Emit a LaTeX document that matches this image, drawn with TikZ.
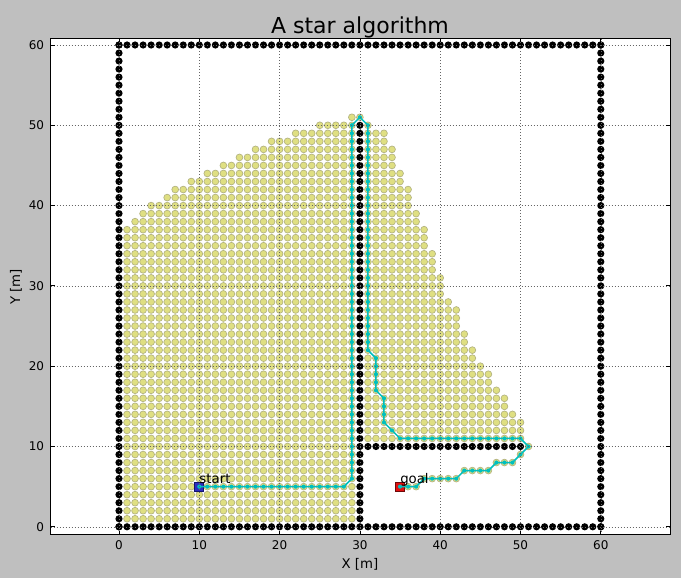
\documentclass[tikz,border=0pt]{standalone}
\usepackage{fontspec}
\setmainfont{DejaVu Sans}
\definecolor{bgray}{RGB}{191,191,191}
\definecolor{explfill}{RGB}{223,223,130}
\definecolor{expledge}{RGB}{178,178,128}
\definecolor{pathc}{RGB}{0,191,191}
\definecolor{startc}{RGB}{45,45,190}
\definecolor{startedge}{RGB}{20,20,110}
\definecolor{goalc}{RGB}{225,15,15}
\definecolor{goaledge}{RGB}{110,10,10}
\begin{document}
\begin{tikzpicture}[x=8.03pt,y=8.03pt,
  expl/.style={fill=explfill,draw=expledge,line width=0.65pt},
  wall/.style={fill=black},
  pdot/.style={fill=pathc},
  gridl/.style={draw=black!60,line width=0.5pt,dash pattern=on 1pt off 2pt},
  tickl/.style={draw=black,line width=0.8pt},
  ticklab/.style={font=\fontsize{12}{14}\selectfont,inner sep=0pt},
  axlab/.style={font=\fontsize{13.3}{16}\selectfont,inner sep=0pt},
  marklab/.style={font=\fontsize{13.3}{16}\selectfont,inner sep=0pt,anchor=base west},
  sqmark/.style={minimum size=9pt,inner sep=0pt,line width=1pt,draw}]
\useasboundingbox (-119pt,-51.2pt) rectangle (562pt,526.8pt);
\fill[bgray] (-119pt,-51.2pt) rectangle (562pt,526.8pt);
\fill[white] (-68.5pt,-8.2pt) rectangle (551.3pt,488.5pt);
% explored nodes, left region
\foreach \x/\t in {1/37,2/38,3/39,4/40,5/40,6/41,7/42,8/42,9/43,10/43,11/44,12/44,13/45,14/45,15/46,16/46,17/47,18/47,19/48,20/48,21/48,22/49,23/49,24/49,25/50,26/50,27/50,28/50,29/51}{
  \foreach \y in {1,...,\t}{\path[expl] (\x,\y) circle (3.4pt);}
}
% explored nodes, right region
\foreach \y/\r in {11/50,12/50,13/50,14/49,15/48,16/48,17/47,18/46,19/46,20/45,21/44,22/44,23/43,24/43,25/42,26/42,27/42,28/41,29/40,30/40,31/40,32/39,33/39,34/39,35/38,36/38,37/38,38/37,39/37,40/36,41/36,42/36,43/35,44/35,45/34,46/34,47/34,48/33,49/33,50/31}{
  \foreach \x in {31,...,\r}{\path[expl] (\x,\y) circle (3.4pt);}
}
\foreach \p in {(30,51),(51,10),(50,9),(49,8),(48,8),(47,8),(46,7),(45,7),(44,7),(43,7),(42,6),(41,6),(40,6),(39,6),(38,6),(37,5),(36,5),(35,5)}{
  \path[expl] \p circle (3.4pt);
}
% obstacles
\foreach \i in {0,...,60}{
  \path[wall] (\i,0) circle (3.6pt);
  \path[wall] (\i,60) circle (3.6pt);
  \path[wall] (0,\i) circle (3.6pt);
  \path[wall] (60,\i) circle (3.6pt);
}
\foreach \i in {1,...,50}{\path[wall] (30,\i) circle (3.6pt);}
\foreach \i in {31,...,50}{\path[wall] (\i,10) circle (3.6pt);}
% start and goal markers
\node[sqmark,fill=startc,draw=startedge] (startm) at (10,5) {};
\node[sqmark,fill=goalc,draw=goaledge] (goalm) at (35,5) {};
% path
\draw[pathc,line width=1.5pt,line join=round] (startm.center) -- (28,5) -- (29,6) -- (29,50) -- (30,51) -- (31,50) -- (31,22) -- (32,21) -- (32,17) -- (33,16) -- (33,13) -- (34,12) -- (35,11) -- (50,11) -- (51,10) -- (50,9) -- (49,8) -- (47,8) -- (46,7) -- (43,7) -- (42,6) -- (38,6) -- (37,5) -- (goalm.center);
\foreach \x in {10,...,28}{\path[pdot] (\x,5) circle (2.1pt);}
\foreach \y in {6,...,50}{\path[pdot] (29,\y) circle (2.1pt);}
\foreach \y in {22,...,50}{\path[pdot] (31,\y) circle (2.1pt);}
\foreach \y in {17,...,21}{\path[pdot] (32,\y) circle (2.1pt);}
\foreach \y in {13,...,16}{\path[pdot] (33,\y) circle (2.1pt);}
\foreach \x in {35,...,50}{\path[pdot] (\x,11) circle (2.1pt);}
\foreach \x in {47,48,49}{\path[pdot] (\x,8) circle (2.1pt);}
\foreach \x in {43,...,46}{\path[pdot] (\x,7) circle (2.1pt);}
\foreach \x in {38,...,42}{\path[pdot] (\x,6) circle (2.1pt);}
\foreach \p in {(30,51),(34,12),(51,10),(50,9),(37,5),(36,5),(35,5)}{\path[pdot] \p circle (2.1pt);}
% grid, ticks, labels
\foreach \v in {0,10,...,60}{
  \draw[gridl] (\v,-1.02) -- (\v,60.83);
  \draw[gridl] (-8.53,\v) -- (68.65,\v);
  \draw[tickl] (\v,-1.02) -- ++(0,4pt);
  \draw[tickl] (\v,60.83) -- ++(0,-4pt);
  \draw[tickl] (-8.53,\v) -- ++(4pt,0);
  \draw[tickl] (68.65,\v) -- ++(-4pt,0);
  \node[ticklab,anchor=north] (xt\v) at (\v,-1.65) {\v};
  \node[ticklab,anchor=east] (yt\v) at (-74.7pt,\v*8.03pt) {\v};
}
\draw[line width=1pt] (-68.5pt,-8.2pt) rectangle (551.3pt,488.5pt);
\node[marklab] (startl) at (10,5.45) {start};
\node[marklab] (goall) at (35,5.45) {goal};
\node[axlab] (xlab) at (241pt,-37.2pt) {X [m]};
\node[axlab,rotate=90] (ylab) at (-103pt,239.8pt) {Y [m]};
\node[font=\fontsize{22}{26}\selectfont,inner sep=0pt,anchor=base] (title) at (241pt,493.5pt) {A star algorithm};
\end{tikzpicture}
\end{document}
